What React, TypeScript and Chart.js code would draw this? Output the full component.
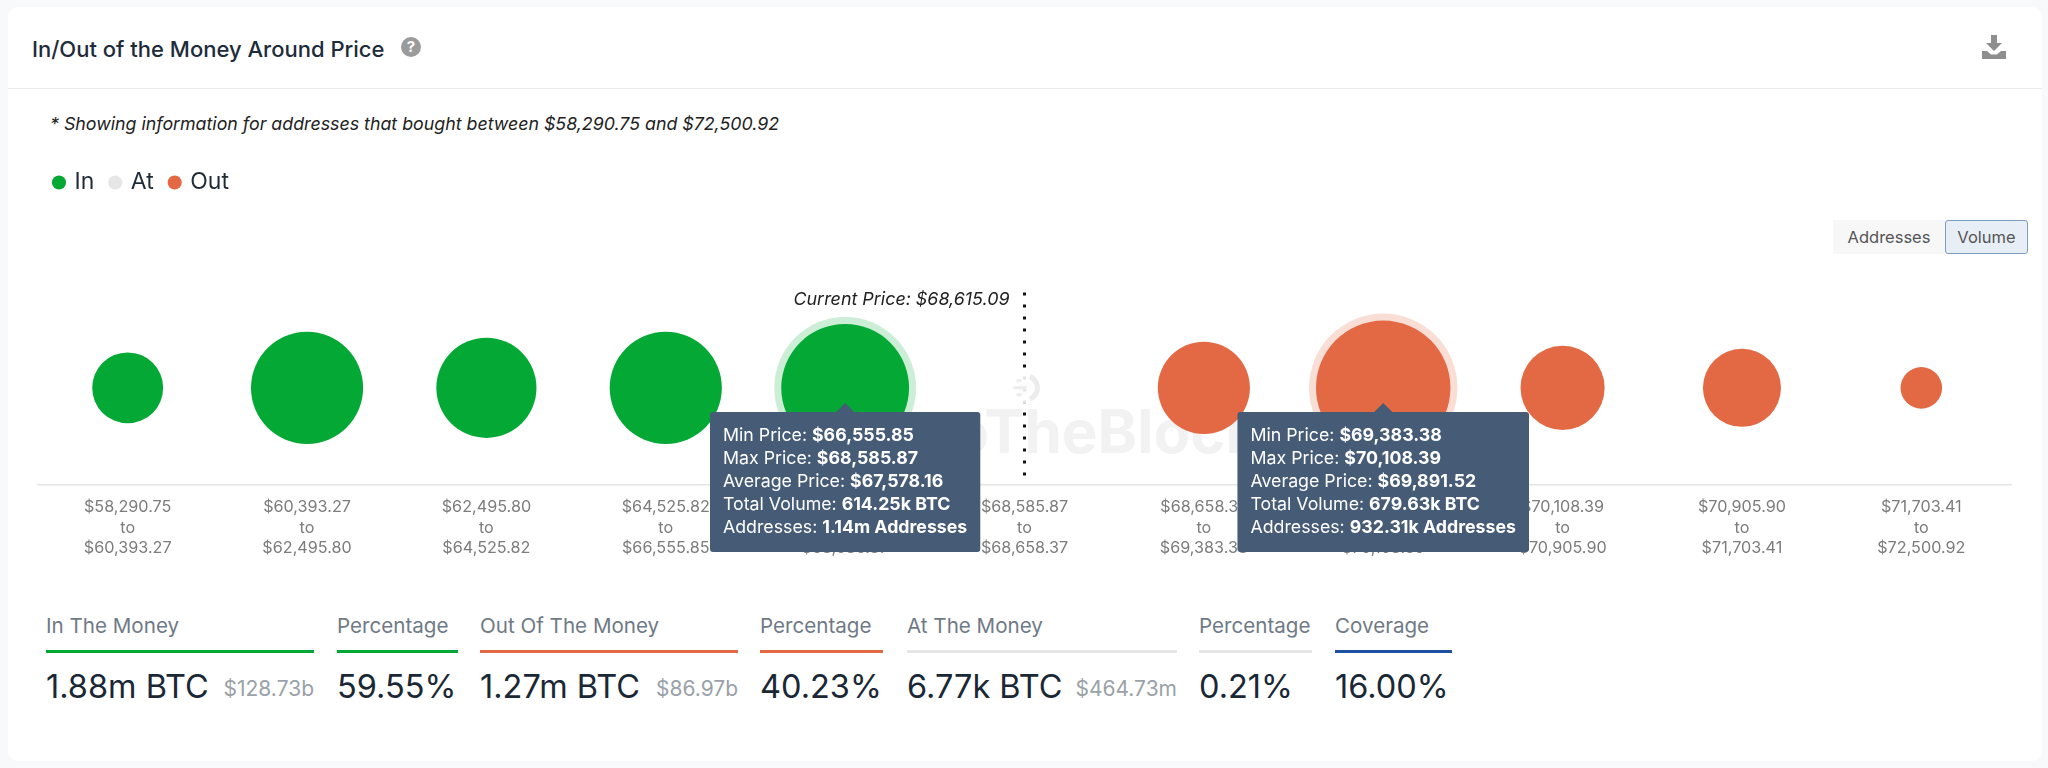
import React, { useEffect, useRef } from "react";
import { Chart, registerables } from "chart.js";

Chart.register(...registerables);

const priceRanges: string[][] = [
  ["$58,290.75", "to", "$60,393.27"],
  ["$60,393.27", "to", "$62,495.80"],
  ["$62,495.80", "to", "$64,525.82"],
  ["$64,525.82", "to", "$66,555.85"],
  ["$66,555.85", "to", "$68,585.87"],
  ["$68,585.87", "to", "$68,658.37"],
  ["$68,658.37", "to", "$69,383.38"],
  ["$69,383.38", "to", "$70,108.39"],
  ["$70,108.39", "to", "$70,905.90"],
  ["$70,905.90", "to", "$71,703.41"],
  ["$71,703.41", "to", "$72,500.92"],
];
// Volume per price band, in thousand BTC
const inVolumes = [189, 473, 377, 473, 614.25];
const atVolumes = [6.77];
const outVolumes = [319, 679.63, 266, 229, 65];
const inIndex = [0, 1, 2, 3, 4];
const atIndex = [5];
const outIndex = [6, 7, 8, 9, 10];
const highlighted = [4, 7];
const currentPriceText = "Current Price: $68,615.09";
const currentPriceIndex = 5;

const tooltipA = [
  ["Min Price: ", "$66,555.85"],
  ["Max Price: ", "$68,585.87"],
  ["Average Price: ", "$67,578.16"],
  ["Total Volume: ", "614.25k BTC"],
  ["Addresses: ", "1.14m Addresses"],
];
const tooltipB = [
  ["Min Price: ", "$69,383.38"],
  ["Max Price: ", "$70,108.39"],
  ["Average Price: ", "$69,891.52"],
  ["Total Volume: ", "679.63k BTC"],
  ["Addresses: ", "932.31k Addresses"],
];

const statLabels = ["In The Money", "Percentage", "Out Of The Money", "Percentage", "At The Money", "Percentage", "Coverage"];
const statValues = ["1.88m BTC", "59.55%", "1.27m BTC", "40.23%", "6.77k BTC", "0.21%", "16.00%"];
const statSubs = ["$128.73b", "", "$86.97b", "", "$464.73m", "", ""];

const GREEN = "#04a834";
const ORANGE = "#e36844";
const GREY = "#e6e6e6";
const statColours = [GREEN, GREEN, ORANGE, ORANGE, GREY, GREY, "#1d4fa3"];
const statLeft = [46, 337, 480, 760, 907, 1199, 1335];
const statWidth = [268, 121, 258, 123, 270, 113, 117];

const FONT = "Inter, 'Noto Sans', sans-serif";
const radiusOf = (v: number) => Math.sqrt(v * 6.65);

const overlay = {
  id: "overlay",
  beforeDatasetsDraw(chart: any) {
    const { ctx, scales } = chart;
    const x = scales.x.getPixelForValue(currentPriceIndex);
    const y = scales.y;
    ctx.save();
    ctx.fillStyle = "#f2f2f2";
    ctx.font = `700 60px ${FONT}`;
    ctx.textAlign = "center";
    ctx.textBaseline = "middle";
    ctx.fillText("IntoTheBlock", x + 44, y.getPixelForValue(-47));
    ctx.restore();
  },
  afterDraw(chart: any) {
    const { ctx, scales } = chart;
    const x = scales.x.getPixelForValue(currentPriceIndex);
    const y = scales.y;
    ctx.save();
    // current price marker
    ctx.strokeStyle = "#111";
    ctx.lineWidth = 3;
    ctx.setLineDash([3, 9]);
    ctx.beginPath();
    ctx.moveTo(x, y.getPixelForValue(95));
    ctx.lineTo(x, y.getPixelForValue(-88));
    ctx.stroke();
    ctx.setLineDash([]);
    // translucent watermark logo sits over the marker
    const cy = y.getPixelForValue(0);
    ctx.fillStyle = "rgba(255,255,255,0.88)";
    ctx.beginPath();
    ctx.arc(x, cy, 16, 0, Math.PI * 2);
    ctx.fill();
    ctx.strokeStyle = "#ececec";
    ctx.lineWidth = 5;
    ctx.beginPath();
    ctx.arc(x + 1, cy, 12, -1.2, 1.2);
    ctx.stroke();
    ctx.lineWidth = 3;
    ctx.beginPath();
    ctx.moveTo(x - 11, cy);
    ctx.lineTo(x + 2, cy);
    ctx.moveTo(x - 8, cy - 7);
    ctx.lineTo(x - 3, cy - 7);
    ctx.moveTo(x - 8, cy + 7);
    ctx.lineTo(x - 3, cy + 7);
    ctx.stroke();

    ctx.font = `italic 400 17.9px ${FONT}`;
    ctx.fillStyle = "#222";
    ctx.textAlign = "right";
    ctx.textBaseline = "middle";
    ctx.fillText(currentPriceText, x - 15, y.getPixelForValue(88));
    // tooltips
    const draw = (rows: string[][], index: number) => {
      const cx = scales.x.getPixelForValue(index);
      const top = y.getPixelForValue(-24);
      const regular = `400 17.75px ${FONT}`;
      const bold = `700 17.75px ${FONT}`;
      const measure = (r: string[]) => {
        ctx.font = regular;
        const a = ctx.measureText(r[0]).width;
        ctx.font = bold;
        return [a, ctx.measureText(r[1]).width];
      };
      const w = Math.max(...rows.map((r) => { const m = measure(r); return m[0] + m[1]; })) + 26;
      const left = cx - w / 2;
      ctx.fillStyle = "#465b76";
      ctx.beginPath();
      ctx.roundRect(left, top, w, 140, 3);
      ctx.moveTo(cx - 9, top);
      ctx.lineTo(cx, top - 9);
      ctx.lineTo(cx + 9, top);
      ctx.fill();
      ctx.textAlign = "left";
      ctx.textBaseline = "middle";
      ctx.fillStyle = "#ffffff";
      rows.forEach((r, i) => {
        const m = measure(r);
        const ly = top + 24 + i * 22.8;
        ctx.font = regular;
        ctx.fillText(r[0], left + 13, ly);
        ctx.font = bold;
        ctx.fillText(r[1], left + 13 + m[0], ly);
      });
    };
    draw(tooltipA, highlighted[0]);
    draw(tooltipB, highlighted[1]);
    ctx.restore();
  },
};

export default function App() {
  const ref = useRef<HTMLCanvasElement>(null);
  useEffect(() => {
    const point = (i: number, v: number, extra = 0) => ({ x: priceRanges[i] as any, y: 0, r: radiusOf(v) + extra });
    const volumes = [...inVolumes, ...atVolumes, ...outVolumes];
    const chart = new Chart(ref.current!, {
      type: "bubble",
      data: {
        labels: priceRanges as any,
        datasets: [
          { label: "In", data: inIndex.map((i, k) => point(i, inVolumes[k])), backgroundColor: GREEN, borderWidth: 0 },
          { label: "At", data: atIndex.map((i, k) => point(i, atVolumes[k])), backgroundColor: GREY, borderWidth: 0 },
          { label: "Out", data: outIndex.map((i, k) => point(i, outVolumes[k])), backgroundColor: ORANGE, borderWidth: 0 },
          {
            label: "Highlight",
            data: highlighted.map((i) => point(i, volumes[i], 7)),
            backgroundColor: ["rgba(4,168,52,0.2)", "rgba(227,104,68,0.22)"],
            borderWidth: 0,
          },
        ],
      },
      options: {
        responsive: false,
        animation: false,
        events: [],
        layout: { autoPadding: false, padding: { left: 38, right: 37, top: 0, bottom: 0 } },
        scales: {
          x: {
            type: "category",
            offset: true,
            afterFit: (scale: any) => {
              scale.paddingLeft = 0;
              scale.paddingRight = 0;
            },
            grid: { display: false, drawTicks: false },
            border: { color: "#e4e4e4", width: 1.5 },
            ticks: {
              autoSkip: false,
              maxRotation: 0,
              padding: 12,
              color: "#7c7c7c",
              font: { family: FONT, size: 16.2, lineHeight: 1.28 },
            },
          },
          y: { display: false, min: -96.5, max: 183 },
        },
        plugins: {
          tooltip: { enabled: false },
          legend: {
            position: "top",
            align: "start",
            labels: {
              filter: (item: any) => item.text !== "Highlight",
              usePointStyle: true,
              pointStyle: "circle",
              boxWidth: 8,
              boxHeight: 10,
              padding: 17,
              color: "#1f2a37",
              font: { family: FONT, size: 23 },
            },
          },
        },
      } as any,
      plugins: [overlay],
    });
    return () => chart.destroy();
  }, []);

  const abs = (o: React.CSSProperties): React.CSSProperties => ({ position: "absolute", whiteSpace: "nowrap", fontFamily: FONT, ...o });
  return (
    <div style={abs({ left: 0, top: 0, width: 2048, height: 768, background: "#f8f9fb", overflow: "hidden" })}>
      <div style={abs({ left: 8, top: 7, width: 2034, height: 754, background: "#fff", borderRadius: 10 })} />
      <div style={abs({ left: 8, top: 88, width: 2034, height: 1, background: "#ececec" })} />
      <div style={abs({ left: 32, top: 34, fontSize: 22, lineHeight: "30px", fontWeight: 500, color: "#1d2b3a" })}>In/Out of the Money Around Price</div>
      <div style={abs({ left: 401, top: 37, width: 20, height: 20, borderRadius: 10, background: "#9b9b9b", color: "#fff", fontSize: 15, fontWeight: 700, lineHeight: "20px", textAlign: "center" })}>?</div>
      <svg style={{ position: "absolute", left: 1982, top: 35 }} width="24" height="25" viewBox="0 0 24 25">
        <path d="M9 0h6v8h5l-8 8-8-8h5z" fill="#8e8e8e" />
        <path d="M0 16h5l4 3.5h6l4-3.5h5v8H0z" fill="#8e8e8e" />
      </svg>
      <div style={abs({ left: 50, top: 112, fontSize: 17.8, lineHeight: "24px", fontStyle: "italic", color: "#222" })}>* Showing information for addresses that bought between $58,290.75 and $72,500.92</div>
      <div style={abs({ left: 1833, top: 220, width: 112, height: 34, background: "#f7f7f8", color: "#555", fontSize: 16.5, lineHeight: "34px", textAlign: "center" })}>Addresses</div>
      <div style={abs({ left: 1945, top: 220, width: 81, height: 32, background: "#e8eef6", border: "1px solid #7d9cc0", borderRadius: 3, color: "#555", fontSize: 16.5, lineHeight: "32px", textAlign: "center" })}>Volume</div>
      <canvas ref={ref} width={2048} height={417} style={{ position: "absolute", left: 0, top: 154, width: 2048, height: 417 }} />
      {statLabels.map((label, i) => (
        <React.Fragment key={i}>
          <div style={abs({ left: statLeft[i], top: 612, fontSize: 20.6, lineHeight: "28px", color: "#6f7a86" })}>{label}</div>
          <div style={abs({ left: statLeft[i], top: 650, width: statWidth[i], height: 3, background: statColours[i] })} />
          <div style={abs({ left: statLeft[i], top: 664, fontSize: 32.5, lineHeight: "46px", color: "#1a2836" })}>
            {statValues[i]}
          </div>
          {statSubs[i] && (
            <div style={abs({ left: statLeft[i], width: statWidth[i], top: 675, fontSize: 21, lineHeight: "28px", color: "#9aa1a8", textAlign: "right" })}>{statSubs[i]}</div>
          )}
        </React.Fragment>
      ))}
    </div>
  );
}
